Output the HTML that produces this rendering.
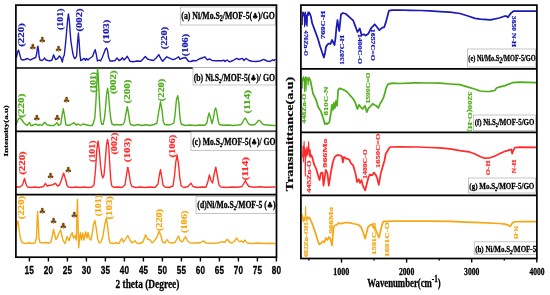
<!DOCTYPE html>
<html><head><meta charset="utf-8"><title>XRD and FTIR</title>
<style>html,body{margin:0;padding:0;background:#fff;}body{width:550px;height:295px;overflow:hidden;}svg{display:block;filter:blur(0.35px);}</style>
</head><body>
<svg width="550" height="295" viewBox="0 0 550 295">
<rect width="550" height="295" fill="#fff"/>
<line x1="15.9" y1="68.0" x2="276.5" y2="68.0" stroke="#000" stroke-width="1.7"/>
<line x1="15.9" y1="131.3" x2="276.5" y2="131.3" stroke="#000" stroke-width="1.7"/>
<line x1="15.9" y1="194.6" x2="276.5" y2="194.6" stroke="#000" stroke-width="1.7"/>
<line x1="300.9" y1="68.9" x2="536.9" y2="68.9" stroke="#000" stroke-width="1.7"/>
<line x1="300.9" y1="132.3" x2="536.9" y2="132.3" stroke="#000" stroke-width="1.7"/>
<line x1="300.9" y1="195.3" x2="536.9" y2="195.3" stroke="#000" stroke-width="1.7"/>
<line x1="29.40" y1="257.5" x2="29.40" y2="261.5" stroke="#000" stroke-width="1.4"/>
<line x1="48.40" y1="257.5" x2="48.40" y2="261.5" stroke="#000" stroke-width="1.4"/>
<line x1="67.40" y1="257.5" x2="67.40" y2="261.5" stroke="#000" stroke-width="1.4"/>
<line x1="86.40" y1="257.5" x2="86.40" y2="261.5" stroke="#000" stroke-width="1.4"/>
<line x1="105.40" y1="257.5" x2="105.40" y2="261.5" stroke="#000" stroke-width="1.4"/>
<line x1="124.40" y1="257.5" x2="124.40" y2="261.5" stroke="#000" stroke-width="1.4"/>
<line x1="143.40" y1="257.5" x2="143.40" y2="261.5" stroke="#000" stroke-width="1.4"/>
<line x1="162.40" y1="257.5" x2="162.40" y2="261.5" stroke="#000" stroke-width="1.4"/>
<line x1="181.40" y1="257.5" x2="181.40" y2="261.5" stroke="#000" stroke-width="1.4"/>
<line x1="200.40" y1="257.5" x2="200.40" y2="261.5" stroke="#000" stroke-width="1.4"/>
<line x1="219.40" y1="257.5" x2="219.40" y2="261.5" stroke="#000" stroke-width="1.4"/>
<line x1="238.40" y1="257.5" x2="238.40" y2="261.5" stroke="#000" stroke-width="1.4"/>
<line x1="257.40" y1="257.5" x2="257.40" y2="261.5" stroke="#000" stroke-width="1.4"/>
<line x1="276.40" y1="257.5" x2="276.40" y2="261.5" stroke="#000" stroke-width="1.4"/>
<line x1="308.95" y1="258.5" x2="308.95" y2="260.8" stroke="#000" stroke-width="1.1"/>
<line x1="341.50" y1="258.5" x2="341.50" y2="262.6" stroke="#000" stroke-width="1.4"/>
<line x1="374.05" y1="258.5" x2="374.05" y2="260.8" stroke="#000" stroke-width="1.1"/>
<line x1="406.60" y1="258.5" x2="406.60" y2="262.6" stroke="#000" stroke-width="1.4"/>
<line x1="439.15" y1="258.5" x2="439.15" y2="260.8" stroke="#000" stroke-width="1.1"/>
<line x1="471.70" y1="258.5" x2="471.70" y2="262.6" stroke="#000" stroke-width="1.4"/>
<line x1="504.25" y1="258.5" x2="504.25" y2="260.8" stroke="#000" stroke-width="1.1"/>
<line x1="536.80" y1="258.5" x2="536.80" y2="262.6" stroke="#000" stroke-width="1.4"/>
<polyline points="16.5,57 17.5,52 18.6,50.2 19.6,54 21.1,59.4 23,60 25,59.5 27.5,58.5 30,60 33,58.6 34.5,58 35.8,57.4 36.8,53 37.5,47.5 37.9,46.2 38.5,50 39.2,57 40,60 42,60.5 43.5,59.5 44.5,57.9 46,60 48,60.5 50,60.8 52,60 53.6,54.8 55.5,59.5 57,59 58,58 59.5,56 61,57.9 62.3,62 63.2,57.5 64.3,55 65.5,44 66.5,33 67.5,21 68.4,14 69.3,20 70.2,33 71,42 71.8,47 72.6,52 73.5,56 74.5,58.5 75.5,58 76.6,56 77.6,42 78.4,33 79.2,43 80,55 80.8,60.6 82,60 83,59 84.3,58.4 85.5,60.5 86.5,58.5 88,60 89.5,58.5 91,57.5 92.5,56.5 93.8,53 95.2,49.7 96.4,55 97.4,61 99,60 100.5,61 102,58 104,53 105.5,49 106.6,47.9 107.6,51 108.5,57 110,61 112,61 115,60.5 117,57.9 119,60.5 121,59.5 122.4,57.7 124,60 126,58 127.3,56.3 128.5,58.5 130,61.2 133,61.8 137,61 140.9,61.2 143.5,58.5 145.3,56.5 147.5,59 149.6,59.7 153.3,60.5 156.2,58 158.8,54.6 161,59 162.7,61.2 166.7,56.8 170,58.3 173,59.7 175.1,59 178.7,56.8 180,59.4 182.1,58.3 185.6,57.5 188.5,61.2 191,61.5 193.3,60.5 196,60.9 199.1,59 202,58 204.9,56.8 207,59.7 210,59 212,60.5 216,60.7 222,60.7 224,60.2 225,61.5 227,60 229.6,61.8 233,60.5 236.6,58.4 239,59.5 242.5,58.4 244,60.5 245.9,58.4 249,60.5 252,61.3 256,61.5 260,61 263.7,59.4 267,61 270,61.5 272.5,59.8 274,60.5 275,59.5" fill="none" stroke="#1a1ab4" stroke-width="1.4" stroke-linejoin="round" stroke-linecap="round"/>
<polyline points="16,124.8 17.5,121 18.8,118.5 20.1,118 21.5,119.5 23.5,122.5 25.2,124.1 27,125.5 29.5,122.6 31,125.8 33,125 36.1,124.1 38,125.5 40,124.5 41.9,125.5 44.8,122.3 47,124.8 50,125.5 54,125.5 57.2,122.6 58.5,125.5 60.8,124.1 62.3,113.9 63.3,108.8 64.7,116.8 65.9,124.8 68,125.5 71,124.5 73.9,122.6 76,125 78,124 80.5,125.5 83,124 86.3,124.8 89,125.5 92,125.5 93,124 94.8,118 95.8,104 96.6,88 97.2,74 97.6,69 98.1,74 98.8,88 99.6,104 100.5,118 101.5,124 103,124.5 104.5,118 105.5,108 106.5,95 107.6,88.3 108.6,95 109.6,108 110.8,119 112,124 114,125 117,124.5 120,125 123,124.5 124.5,122 125.5,116 127.3,106.6 128.5,113 129.5,121 130.5,124.5 134,125.5 138,124.5 142,125.5 146,124.8 150,125.5 154,124.5 157,123 158.5,113 160.5,101.8 162,110 163.2,121 164.5,124.5 168,125 171,124.5 173.9,123 175,115 176.4,100 177.7,95.6 178.9,103 180,118 181.2,124 185,125.5 190,125 195,125.5 200,125 205,125.2 206.8,123 208,117 209.1,112.9 210.3,117 212,123.5 213.5,118 214.6,110.5 215.7,108.1 216.8,112 218,120 219.3,124.5 223,125.3 228,125 233,125.5 238,125 241,124.5 242.6,122.5 244,119.5 245.1,118.1 246.3,119.5 247.6,122.5 249.5,124.5 252,125 255,124.5 256.8,122.5 258,120.8 259.2,120.3 260.6,121.5 262.3,123.8 265,124.8 270,125.2 275,125.5" fill="none" stroke="#4fae1c" stroke-width="1.4" stroke-linejoin="round" stroke-linecap="round"/>
<polyline points="16,187 20,187 22.5,185 24.5,178.4 26,184 27.5,187 31,187.5 35,187 39,187.5 43.5,186.5 45.4,183.3 47,186 49,185.5 52,185 55.4,183.3 57.5,186 59.5,185 61,181 63.7,173.1 65.5,179 67,185.5 68.5,187 72,187.5 76,187 80,187.5 84,187 88,187.5 92,187 94,185 95.5,170 96.8,150 98.1,141 99.3,150 100.5,165 101.8,175 102.8,177.9 104,175 105.2,162 106.5,145 107.6,139.4 108.7,146 109.8,165 110.8,180 111.8,186 114,187.3 118,187 122,187.5 125,185 126.3,176 127.8,167.2 129.2,174 130.5,183 132,186.5 136,187.5 140,187 145,187.5 150,187 155,187.5 158,184 159.2,176 160.5,169.6 161.8,177 163,185 165,187 169,187.5 173,186 174.5,176 175.8,162 177.1,155.3 178.4,163 179.8,178 181.2,186 184,187.5 188,186.5 190.9,183.1 193,186.5 197,187.5 202,187 206,187.2 207.8,182 209.4,175 211,180.5 212.5,183 214,175 215.8,167.2 217.4,176 219,185 221,187 226,187.5 232,187 238,187.3 242,186.5 243.8,183.5 245.4,180.7 247,184 249,186.5 254,187.2 260,186.8 266,187.3 275,187" fill="none" stroke="#ff2b2b" stroke-width="1.4" stroke-linejoin="round" stroke-linecap="round"/>
<polyline points="16.2,230 17.2,221.5 18,221 19.2,230 20.3,238 21.5,241.5 23,243 26,243.5 29,242.8 32,243.5 35,243 36.5,238 37.2,220 37.6,211.5 38.2,222 39,238 40,242.5 43,243 46,242.5 49,243.2 51,242 52.3,236 53.5,229.5 54.6,234 55.9,239.5 57.5,237 59,233 60.6,230 62,236 63,240.7 65.1,243.5 67,236.6 69,240.7 70.5,236 72.2,232.6 73.5,238 75.2,235.6 76.3,240 77,215 77.4,199.5 78,222 78.7,247.8 79.4,240 80.3,232.6 81.5,240 82.5,233 84,240 85.5,232 87,238 88,232.5 89.4,238.7 91,240 92.5,232 93.5,224.4 94.9,220.4 96.5,230 97.6,238.7 99.3,243 101,242 103,236 104.8,224 106.4,218.1 107.8,228 109,239 110,243 113,243.5 116,242.8 119,243.5 120.5,240.5 121.8,238.3 123.2,242 125,240 127.8,235.5 130,240 132,243 134.9,240.7 136.5,243 140,243.5 143,242 145.6,234.8 147.5,239 150.3,240 152,243 155,240 157,237 159.1,231.2 161,236 162.5,242 165,243 167.1,239.5 169,242.5 172,243 175,242.5 176.8,239 178.5,236 180.3,241 182,242 184,239 185.7,236.7 187.5,241 190,242.8 195,243 200,242.8 203.6,240.9 206,243 212,243.2 218,243 222.6,241.6 224.5,242.5 227.3,239.2 229.5,242 232,243 234.5,241 236.8,238 239,241.5 241.6,241 243.2,242.5 245.1,240 247,243 252,243.5 258,243 264,243.5 270,243.2 275,243.5" fill="none" stroke="#f5a816" stroke-width="1.4" stroke-linejoin="round" stroke-linecap="round"/>
<polyline points="302.3,24.5 302.6,12 303.3,16 303.8,12 304.3,16 304.6,26.8 304.9,15 305.5,12 306,24.8 306.4,15 307.1,26.3 307.5,14 308,11.8 308.6,15.5 309.2,12 310,14" fill="none" stroke="#1a1ab4" stroke-width="1.1" stroke-linejoin="round" stroke-linecap="round"/>
<polyline points="310,14 311,17 312.2,23.3 315.2,31.4 318,39 320,46 322,52 323.9,57.5 325,53 326,47 327.5,44.5 329,43.5 330.5,44 332,40 333.5,43 334.5,45 335.5,38 336.5,27 337.5,20 338.5,27 339.3,31 340.2,22 341,14.3 343,13 346,14 350,17.7 353.3,20.7 355,25.4 357.5,32 359.8,28.4 361.6,35 364,34.3 365.8,35.5 368.2,33.8 371,28.4 374.7,24.3 377.1,27.2 379.4,30.2 382,27.8 384.2,27.2 386,21.9 388.3,13 389,10.7 392,10.2 400,10 410,10.3 420,10.5 430,10.8 440,11.6 450,12.2 460,13.5 468,16 475,18.3 480.3,19.2 490.5,19.8 499.2,18 505,16 506.5,16.2 508,17.4 509.5,15 511,13.1 513.7,11 525,11 536,11" fill="none" stroke="#1a1ab4" stroke-width="1.75" stroke-linejoin="round" stroke-linecap="round"/>
<polyline points="302.3,88 302.5,78 303,81 303.5,76.5 304.2,80 304.5,91.8 304.9,79 305.5,76.8 306,91 306.4,79 307,77 307.8,80.5 308.2,85 308.6,78 309.3,77.5 310,80" fill="none" stroke="#4fae1c" stroke-width="1.1" stroke-linejoin="round" stroke-linecap="round"/>
<polyline points="310,80 310.5,81 312.1,89 313,93.7 316.2,100.2 318,106.7 320.9,111.4 323.7,119.8 324.8,123.9 326,123.2 327,124 328,123.3 329.3,122.6 331,112.3 332,104.9 333,110 333.9,103 335,108 335.8,101.1 337,105.8 338.2,89.9 339.5,88.4 343.2,89.6 347,91.8 350,95.3 353,98.5 355.3,102.7 357.4,109 359,104.8 360.5,106.9 362.6,109 365,105.8 366.8,112.1 368.5,108 370,106.9 372.7,103.7 374.5,105 376.3,105.8 378.4,108 380,103.7 381.5,101.6 383.6,97.4 386.2,88 387.8,84.4 392,83.1 400,83.5 415,82.8 430,83 440,83.2 450,84 460,84.7 467.3,86.8 474.5,89 480,91 485,91.5 490,91.4 494.8,90.5 496.5,88 500,86.8 505,85.6 512.3,82.7 520,82.1 536,82.7" fill="none" stroke="#4fae1c" stroke-width="1.75" stroke-linejoin="round" stroke-linecap="round"/>
<polyline points="302.6,157 303,146 303.4,161.8 303.8,150 304.1,141.6 304.5,156 305,148 305.3,176 305.7,150 306.3,157 306.9,147 307.5,155 308.1,150 308.7,141.8 309.2,156 309.8,150" fill="none" stroke="#ff2b2b" stroke-width="1.1" stroke-linejoin="round" stroke-linecap="round"/>
<polyline points="309.8,150 310.3,157 311.2,155 312.4,157.7 314,164.2 316.2,168.8 318,175.3 319.5,180 320.8,173.1 322.5,172.6 323.5,185.6 325.8,169.8 327.5,173.5 328.8,185.6 331,171.6 332.9,162 334.8,156.7 337.6,154.9 341.3,155.8 342,156.8 342.8,162.4 344,157 346.5,158.7 349.3,159.6 351,163.3 353.1,165.2 354.5,169.9 355.9,175.4 357,182 358.7,179.2 360.1,182.9 361.5,180.1 362.8,185.7 365.2,190.4 367,182.9 368.5,177.3 369.9,174.5 372,175.4 374,172.6 375.5,174.5 376.9,177.3 378.8,184.8 380.1,177.3 381,172.6 382.9,166.1 384.5,160.5 385.7,154 388.5,149.3 390,147 400,146.8 417.5,147 430,147.5 440,147.8 450,148.9 460,150.6 469,151.8 475,154 480,156.5 484.4,158.2 490,157.8 495,156 500,153.5 505,151.3 511.3,149.4 512.2,153.6 513,151 515,147.5 520,147.2 536,147.3" fill="none" stroke="#ff2b2b" stroke-width="1.75" stroke-linejoin="round" stroke-linecap="round"/>
<polyline points="302.3,214.5 303,222 303.8,217 304.5,221 305.3,216 305.6,206.6 306,218 306.8,221.5 307.6,216.5 308.5,219 309.3,217 310.1,219" fill="none" stroke="#f5a816" stroke-width="1.1" stroke-linejoin="round" stroke-linecap="round"/>
<polyline points="310.1,219 312,223.2 314.3,229.5 316,234.8 317.9,241.1 319.3,244.3 321,243.2 323.1,241.1 324.5,242.2 325.9,238 327.5,240 329,236.9 330.5,239 332,245.3 333.6,227.4 335,225.3 336.8,224.9 338.5,223.2 341,223.7 346,222.5 350,222.8 355,224 358,224.5 361,227 363,232 365.2,238.6 366.8,232 368,227 371.2,224.4 373.5,225.5 375.5,229 377,233 379,237.6 380.5,231 382,225 383.4,221.3 386,221.3 395,221 410,221.1 430,221.2 450,221.3 460,221.8 480.3,222.6 499.2,223.5 505,224.2 508,225 510,226.4 511.5,224.5 512.5,222.8 514.3,221.8 520,221.5 536,221.5" fill="none" stroke="#f5a816" stroke-width="1.75" stroke-linejoin="round" stroke-linecap="round"/>
<rect x="180.4" y="7" width="95.2" height="18" fill="#fff" stroke="#b8b8b8" stroke-width="0.8"/>
<rect x="193" y="67.5" width="82.6" height="17.5" fill="#fff" stroke="#b8b8b8" stroke-width="0.8"/>
<rect x="191" y="132" width="84.6" height="18.6" fill="#fff" stroke="#b8b8b8" stroke-width="0.8"/>
<rect x="196" y="196.6" width="79.6" height="17" fill="#fff" stroke="#b8b8b8" stroke-width="0.8"/>
<rect x="467.4" y="49" width="68.2" height="18" fill="#fff" stroke="#b8b8b8" stroke-width="0.8"/>
<rect x="473.6" y="115" width="62" height="15.4" fill="#fff" stroke="#b8b8b8" stroke-width="0.8"/>
<rect x="468.4" y="178" width="67.2" height="15" fill="#fff" stroke="#b8b8b8" stroke-width="0.8"/>
<rect x="474.3" y="241.8" width="62.2" height="12.7" fill="#fff" stroke="#b8b8b8" stroke-width="0.8"/>
<rect x="15.9" y="5.1" width="260.6" height="252.1" fill="none" stroke="#000" stroke-width="1.7"/>
<rect x="300.9" y="5.1" width="236" height="253.4" fill="none" stroke="#000" stroke-width="1.7"/>
<text x="32.8" y="50.06" font-family="DejaVu Sans, sans-serif" font-size="8.5" fill="#7a4a0c" text-anchor="middle">&#9827;</text>
<text x="42.3" y="42.96" font-family="DejaVu Sans, sans-serif" font-size="8.5" fill="#7a4a0c" text-anchor="middle">&#9827;</text>
<text x="58.5" y="51.96" font-family="DejaVu Sans, sans-serif" font-size="8.5" fill="#7a4a0c" text-anchor="middle">&#9827;</text>
<text x="36.8" y="120.86" font-family="DejaVu Sans, sans-serif" font-size="8.5" fill="#7a4a0c" text-anchor="middle">&#9827;</text>
<text x="57.2" y="120.86" font-family="DejaVu Sans, sans-serif" font-size="8.5" fill="#7a4a0c" text-anchor="middle">&#9827;</text>
<text x="66.5" y="103.36" font-family="DejaVu Sans, sans-serif" font-size="8.5" fill="#7a4a0c" text-anchor="middle">&#9827;</text>
<text x="50.6" y="178.76" font-family="DejaVu Sans, sans-serif" font-size="8.5" fill="#7a4a0c" text-anchor="middle">&#9827;</text>
<text x="68.4" y="172.86" font-family="DejaVu Sans, sans-serif" font-size="8.5" fill="#7a4a0c" text-anchor="middle">&#9827;</text>
<text x="42.3" y="214.06" font-family="DejaVu Sans, sans-serif" font-size="8.5" fill="#7a4a0c" text-anchor="middle">&#9827;</text>
<text x="53.5" y="223.56" font-family="DejaVu Sans, sans-serif" font-size="8.5" fill="#7a4a0c" text-anchor="middle">&#9827;</text>
<text x="63.2" y="228.96" font-family="DejaVu Sans, sans-serif" font-size="8.5" fill="#7a4a0c" text-anchor="middle">&#9827;</text>
<text x="74.4" y="218.36" font-family="DejaVu Sans, sans-serif" font-size="8.5" fill="#7a4a0c" text-anchor="middle">&#9827;</text>
<text transform="translate(23.55,46.75) rotate(-90)" font-family="Liberation Serif, serif" font-weight="bold" font-size="7.4" fill="#1a1ab4" stroke="#1a1ab4" stroke-width="0.18" textLength="23.56" lengthAdjust="spacingAndGlyphs">(220)</text>
<text transform="translate(63.05,29.95) rotate(-90)" font-family="Liberation Serif, serif" font-weight="bold" font-size="7.4" fill="#1a1ab4" stroke="#1a1ab4" stroke-width="0.18" textLength="21.40" lengthAdjust="spacingAndGlyphs">(101)</text>
<text transform="translate(82.30,31.45) rotate(-90)" font-family="Liberation Serif, serif" font-weight="bold" font-size="7.4" fill="#1a1ab4" stroke="#1a1ab4" stroke-width="0.18" textLength="22.94" lengthAdjust="spacingAndGlyphs">(002)</text>
<text transform="translate(109.15,43.15) rotate(-90)" font-family="Liberation Serif, serif" font-weight="bold" font-size="7.4" fill="#1a1ab4" stroke="#1a1ab4" stroke-width="0.18" textLength="23.56" lengthAdjust="spacingAndGlyphs">(103)</text>
<text transform="translate(167.45,49.30) rotate(-90)" font-family="Liberation Serif, serif" font-weight="bold" font-size="7.4" fill="#1a1ab4" stroke="#1a1ab4" stroke-width="0.18" textLength="22.48" lengthAdjust="spacingAndGlyphs">(220)</text>
<text transform="translate(188.10,56.20) rotate(-90)" font-family="Liberation Serif, serif" font-weight="bold" font-size="7.4" fill="#1a1ab4" stroke="#1a1ab4" stroke-width="0.18" textLength="22.38" lengthAdjust="spacingAndGlyphs">(106)</text>
<text transform="translate(23.80,117.70) rotate(-90)" font-family="Liberation Serif, serif" font-weight="bold" font-size="7.4" fill="#4fae1c" stroke="#4fae1c" stroke-width="0.18" textLength="24.03" lengthAdjust="spacingAndGlyphs">(220)</text>
<text transform="translate(95.80,92.50) rotate(-90)" font-family="Liberation Serif, serif" font-weight="bold" font-size="7.4" fill="#4fae1c" stroke="#4fae1c" stroke-width="0.18" textLength="20.41" lengthAdjust="spacingAndGlyphs">(101)</text>
<text transform="translate(116.05,94.00) rotate(-90)" font-family="Liberation Serif, serif" font-weight="bold" font-size="7.4" fill="#4fae1c" stroke="#4fae1c" stroke-width="0.18" textLength="23.51" lengthAdjust="spacingAndGlyphs">(002)</text>
<text transform="translate(129.90,103.55) rotate(-90)" font-family="Liberation Serif, serif" font-weight="bold" font-size="7.4" fill="#4fae1c" stroke="#4fae1c" stroke-width="0.18" textLength="23.97" lengthAdjust="spacingAndGlyphs">(200)</text>
<text transform="translate(163.55,101.20) rotate(-90)" font-family="Liberation Serif, serif" font-weight="bold" font-size="7.4" fill="#4fae1c" stroke="#4fae1c" stroke-width="0.18" textLength="22.38" lengthAdjust="spacingAndGlyphs">(220)</text>
<text transform="translate(249.85,113.47) rotate(-90)" font-family="Liberation Serif, serif" font-weight="bold" font-size="7.4" fill="#4fae1c" stroke="#4fae1c" stroke-width="0.18" textLength="23.31" lengthAdjust="spacingAndGlyphs">(114)</text>
<text transform="translate(25.45,174.80) rotate(-90)" font-family="Liberation Serif, serif" font-weight="bold" font-size="7.4" fill="#ff2b2b" stroke="#ff2b2b" stroke-width="0.18" textLength="23.51" lengthAdjust="spacingAndGlyphs">(220)</text>
<text transform="translate(94.50,161.90) rotate(-90)" font-family="Liberation Serif, serif" font-weight="bold" font-size="7.4" fill="#ff2b2b" stroke="#ff2b2b" stroke-width="0.18" textLength="21.34" lengthAdjust="spacingAndGlyphs">(101)</text>
<text transform="translate(117.05,154.60) rotate(-90)" font-family="Liberation Serif, serif" font-weight="bold" font-size="7.4" fill="#ff2b2b" stroke="#ff2b2b" stroke-width="0.18" textLength="21.86" lengthAdjust="spacingAndGlyphs">(002)</text>
<text transform="translate(129.90,162.15) rotate(-90)" font-family="Liberation Serif, serif" font-weight="bold" font-size="7.4" fill="#ff2b2b" stroke="#ff2b2b" stroke-width="0.18" textLength="24.08" lengthAdjust="spacingAndGlyphs">(103)</text>
<text transform="translate(174.70,157.62) rotate(-90)" font-family="Liberation Serif, serif" font-weight="bold" font-size="7.4" fill="#ff2b2b" stroke="#ff2b2b" stroke-width="0.18" textLength="22.84" lengthAdjust="spacingAndGlyphs">(106)</text>
<text transform="translate(247.75,180.28) rotate(-90)" font-family="Liberation Serif, serif" font-weight="bold" font-size="7.4" fill="#ff2b2b" stroke="#ff2b2b" stroke-width="0.18" textLength="23.31" lengthAdjust="spacingAndGlyphs">(114)</text>
<text transform="translate(24.35,219.20) rotate(-90)" font-family="Liberation Serif, serif" font-weight="bold" font-size="7.4" fill="#f5a816" stroke="#f5a816" stroke-width="0.18" textLength="23.41" lengthAdjust="spacingAndGlyphs">(220)</text>
<text transform="translate(100.70,216.32) rotate(-90)" font-family="Liberation Serif, serif" font-weight="bold" font-size="7.4" fill="#f5a816" stroke="#f5a816" stroke-width="0.18" textLength="21.29" lengthAdjust="spacingAndGlyphs">(101)</text>
<text transform="translate(112.10,219.50) rotate(-90)" font-family="Liberation Serif, serif" font-weight="bold" font-size="7.4" fill="#f5a816" stroke="#f5a816" stroke-width="0.18" textLength="23.41" lengthAdjust="spacingAndGlyphs">(103)</text>
<text transform="translate(161.75,231.05) rotate(-90)" font-family="Liberation Serif, serif" font-weight="bold" font-size="7.4" fill="#f5a816" stroke="#f5a816" stroke-width="0.18" textLength="22.01" lengthAdjust="spacingAndGlyphs">(220)</text>
<text transform="translate(187.25,233.05) rotate(-90)" font-family="Liberation Serif, serif" font-weight="bold" font-size="7.4" fill="#f5a816" stroke="#f5a816" stroke-width="0.18" textLength="22.53" lengthAdjust="spacingAndGlyphs">(106)</text>
<text transform="translate(303.92,30.60) rotate(90)" font-family="Liberation Serif, serif" font-weight="bold" font-size="5.6" fill="#1a1ab4" stroke="#1a1ab4" stroke-width="0.18" textLength="25.24" lengthAdjust="spacingAndGlyphs">476Zn-O</text>
<text transform="translate(325.23,39.05) rotate(-90)" font-family="Liberation Serif, serif" font-weight="bold" font-size="5.6" fill="#1a1ab4" stroke="#1a1ab4" stroke-width="0.18" textLength="28.06" lengthAdjust="spacingAndGlyphs">769C-H</text>
<text transform="translate(343.52,64.78) rotate(-90)" font-family="Liberation Serif, serif" font-weight="bold" font-size="5.6" fill="#1a1ab4" stroke="#1a1ab4" stroke-width="0.18" textLength="29.67" lengthAdjust="spacingAndGlyphs">1387C-H</text>
<text transform="translate(357.52,33.77) rotate(90)" font-family="Liberation Serif, serif" font-weight="bold" font-size="5.6" fill="#1a1ab4" stroke="#1a1ab4" stroke-width="0.18" textLength="30.51" lengthAdjust="spacingAndGlyphs">1490C-O</text>
<text transform="translate(371.42,28.75) rotate(90)" font-family="Liberation Serif, serif" font-weight="bold" font-size="5.6" fill="#1a1ab4" stroke="#1a1ab4" stroke-width="0.18" textLength="32.08" lengthAdjust="spacingAndGlyphs">1657C=O</text>
<text transform="translate(511.67,15.85) rotate(90)" font-family="Liberation Serif, serif" font-weight="bold" font-size="5.6" fill="#1a1ab4" stroke="#1a1ab4" stroke-width="0.18" textLength="30.97" lengthAdjust="spacingAndGlyphs">3650 N-H</text>
<text transform="translate(306.38,123.42) rotate(-90)" font-family="Liberation Serif, serif" font-weight="bold" font-size="5.6" fill="#4fae1c" stroke="#4fae1c" stroke-width="0.18" textLength="29.84" lengthAdjust="spacingAndGlyphs">448Zn-O</text>
<text transform="translate(327.92,115.55) rotate(-90)" font-family="Liberation Serif, serif" font-weight="bold" font-size="5.6" fill="#4fae1c" stroke="#4fae1c" stroke-width="0.18" textLength="29.04" lengthAdjust="spacingAndGlyphs">810C-N</text>
<text transform="translate(369.52,103.53) rotate(-90)" font-family="Liberation Serif, serif" font-weight="bold" font-size="5.6" fill="#4fae1c" stroke="#4fae1c" stroke-width="0.18" textLength="30.94" lengthAdjust="spacingAndGlyphs">1599C=O</text>
<text transform="translate(468.15,91.57) rotate(90)" font-family="Liberation Serif, serif" font-weight="bold" font-size="5.6" fill="#4fae1c" stroke="#4fae1c" stroke-width="0.18" textLength="40.42" lengthAdjust="spacingAndGlyphs">3200(O-H)</text>
<text transform="translate(310.67,192.75) rotate(-90)" font-family="Liberation Serif, serif" font-weight="bold" font-size="5.6" fill="#ff2b2b" stroke="#ff2b2b" stroke-width="0.18" textLength="32.31" lengthAdjust="spacingAndGlyphs">445Zn-O</text>
<text transform="translate(327.18,167.55) rotate(-90)" font-family="Liberation Serif, serif" font-weight="bold" font-size="5.6" fill="#ff2b2b" stroke="#ff2b2b" stroke-width="0.18" textLength="29.08" lengthAdjust="spacingAndGlyphs">966Mo</text>
<text transform="translate(367.12,178.78) rotate(-90)" font-family="Liberation Serif, serif" font-weight="bold" font-size="5.6" fill="#ff2b2b" stroke="#ff2b2b" stroke-width="0.18" textLength="29.41" lengthAdjust="spacingAndGlyphs">1489C-O</text>
<text transform="translate(380.43,168.10) rotate(-90)" font-family="Liberation Serif, serif" font-weight="bold" font-size="5.6" fill="#ff2b2b" stroke="#ff2b2b" stroke-width="0.18" textLength="34.72" lengthAdjust="spacingAndGlyphs">1650C=O</text>
<text transform="translate(489.93,175.30) rotate(-90)" font-family="Liberation Serif, serif" font-weight="bold" font-size="5.6" fill="#ff2b2b" stroke="#ff2b2b" stroke-width="0.18" textLength="14.81" lengthAdjust="spacingAndGlyphs">O-H</text>
<text transform="translate(515.67,173.18) rotate(-90)" font-family="Liberation Serif, serif" font-weight="bold" font-size="5.6" fill="#ff2b2b" stroke="#ff2b2b" stroke-width="0.18" textLength="13.54" lengthAdjust="spacingAndGlyphs">N-H</text>
<text transform="translate(307.98,257.75) rotate(-90)" font-family="Liberation Serif, serif" font-weight="bold" font-size="5.6" fill="#f5a816" stroke="#f5a816" stroke-width="0.18" textLength="35.34" lengthAdjust="spacingAndGlyphs">482Zn-OH</text>
<text transform="translate(332.68,233.53) rotate(-90)" font-family="Liberation Serif, serif" font-weight="bold" font-size="5.6" fill="#f5a816" stroke="#f5a816" stroke-width="0.18" textLength="26.40" lengthAdjust="spacingAndGlyphs">966Mo</text>
<text transform="translate(376.17,254.70) rotate(-90)" font-family="Liberation Serif, serif" font-weight="bold" font-size="5.6" fill="#f5a816" stroke="#f5a816" stroke-width="0.18" textLength="32.13" lengthAdjust="spacingAndGlyphs">1591C-O</text>
<text transform="translate(388.73,256.98) rotate(-90)" font-family="Liberation Serif, serif" font-weight="bold" font-size="5.6" fill="#f5a816" stroke="#f5a816" stroke-width="0.18" textLength="34.90" lengthAdjust="spacingAndGlyphs">1691C-O</text>
<text transform="translate(514.12,226.05) rotate(90)" font-family="Liberation Serif, serif" font-weight="bold" font-size="5.6" fill="#f5a816" stroke="#f5a816" stroke-width="0.18" textLength="13.01" lengthAdjust="spacingAndGlyphs">N-H</text>
<text transform="translate(8.40,156.45) rotate(-90)" font-family="Liberation Serif, serif" font-weight="bold" font-size="6" fill="#000" stroke="#000" stroke-width="0.18" textLength="51.27" lengthAdjust="spacingAndGlyphs">Intensity(a.u)</text>
<text transform="translate(292.52,191.15) rotate(-90)" font-family="Liberation Serif, serif" font-weight="bold" font-size="11" fill="#000" stroke="#000" stroke-width="0.18" textLength="114.27" lengthAdjust="spacingAndGlyphs">Transmittance(a.u)</text>
<text x="24.60" y="273.70" font-family="Liberation Sans, sans-serif" font-weight="bold" font-size="10.8" fill="#000" stroke="#000" stroke-width="0.3" textLength="9.34" lengthAdjust="spacingAndGlyphs">15</text>
<text x="43.85" y="273.70" font-family="Liberation Sans, sans-serif" font-weight="bold" font-size="10.8" fill="#000" stroke="#000" stroke-width="0.3" textLength="9.07" lengthAdjust="spacingAndGlyphs">20</text>
<text x="62.85" y="273.70" font-family="Liberation Sans, sans-serif" font-weight="bold" font-size="10.8" fill="#000" stroke="#000" stroke-width="0.3" textLength="9.13" lengthAdjust="spacingAndGlyphs">25</text>
<text x="81.85" y="273.70" font-family="Liberation Sans, sans-serif" font-weight="bold" font-size="10.8" fill="#000" stroke="#000" stroke-width="0.3" textLength="9.13" lengthAdjust="spacingAndGlyphs">30</text>
<text x="100.85" y="273.70" font-family="Liberation Sans, sans-serif" font-weight="bold" font-size="10.8" fill="#000" stroke="#000" stroke-width="0.3" textLength="9.20" lengthAdjust="spacingAndGlyphs">35</text>
<text x="119.85" y="273.70" font-family="Liberation Sans, sans-serif" font-weight="bold" font-size="10.8" fill="#000" stroke="#000" stroke-width="0.3" textLength="9.13" lengthAdjust="spacingAndGlyphs">40</text>
<text x="139.10" y="273.70" font-family="Liberation Sans, sans-serif" font-weight="bold" font-size="10.8" fill="#000" stroke="#000" stroke-width="0.3" textLength="8.94" lengthAdjust="spacingAndGlyphs">45</text>
<text x="157.85" y="273.70" font-family="Liberation Sans, sans-serif" font-weight="bold" font-size="10.8" fill="#000" stroke="#000" stroke-width="0.3" textLength="9.07" lengthAdjust="spacingAndGlyphs">50</text>
<text x="176.85" y="273.70" font-family="Liberation Sans, sans-serif" font-weight="bold" font-size="10.8" fill="#000" stroke="#000" stroke-width="0.3" textLength="9.13" lengthAdjust="spacingAndGlyphs">55</text>
<text x="195.85" y="273.70" font-family="Liberation Sans, sans-serif" font-weight="bold" font-size="10.8" fill="#000" stroke="#000" stroke-width="0.3" textLength="9.07" lengthAdjust="spacingAndGlyphs">60</text>
<text x="214.85" y="273.70" font-family="Liberation Sans, sans-serif" font-weight="bold" font-size="10.8" fill="#000" stroke="#000" stroke-width="0.3" textLength="9.13" lengthAdjust="spacingAndGlyphs">65</text>
<text x="233.85" y="273.70" font-family="Liberation Sans, sans-serif" font-weight="bold" font-size="10.8" fill="#000" stroke="#000" stroke-width="0.3" textLength="9.07" lengthAdjust="spacingAndGlyphs">70</text>
<text x="252.85" y="273.70" font-family="Liberation Sans, sans-serif" font-weight="bold" font-size="10.8" fill="#000" stroke="#000" stroke-width="0.3" textLength="9.13" lengthAdjust="spacingAndGlyphs">75</text>
<text x="271.85" y="273.70" font-family="Liberation Sans, sans-serif" font-weight="bold" font-size="10.8" fill="#000" stroke="#000" stroke-width="0.3" textLength="9.13" lengthAdjust="spacingAndGlyphs">80</text>
<text x="333.35" y="275.10" font-family="Liberation Serif, serif" font-weight="bold" font-size="11" fill="#000" stroke="#000" stroke-width="0.3" textLength="15.99" lengthAdjust="spacingAndGlyphs">1000</text>
<text x="398.95" y="275.10" font-family="Liberation Serif, serif" font-weight="bold" font-size="11" fill="#000" stroke="#000" stroke-width="0.3" textLength="15.35" lengthAdjust="spacingAndGlyphs">2000</text>
<text x="464.05" y="275.10" font-family="Liberation Serif, serif" font-weight="bold" font-size="11" fill="#000" stroke="#000" stroke-width="0.3" textLength="15.35" lengthAdjust="spacingAndGlyphs">3000</text>
<text x="529.40" y="275.10" font-family="Liberation Serif, serif" font-weight="bold" font-size="11" fill="#000" stroke="#000" stroke-width="0.3" textLength="15.17" lengthAdjust="spacingAndGlyphs">4000</text>
<text x="115.50" y="287.60" font-family="Liberation Serif, serif" font-weight="bold" font-size="12.4" fill="#000" stroke="#000" stroke-width="0.3" textLength="63.88" lengthAdjust="spacingAndGlyphs">2 theta (Degree)</text>
<text x="367.25" y="287.20" font-family="Liberation Serif, serif" font-weight="bold" font-size="11.6" fill="#000" stroke="#000" stroke-width="0.3" textLength="73.48" lengthAdjust="spacingAndGlyphs">Wavenumber(cm<tspan font-size="9.5" dy="-5.5">-1</tspan><tspan dy="5.5">)</tspan></text>
<text x="181.35" y="19.00" font-family="Liberation Serif, serif" font-weight="bold" font-size="9.8" fill="#000" stroke="#000" stroke-width="0.3" textLength="93.46" lengthAdjust="spacingAndGlyphs">(a) Ni/Mo.S<tspan font-size="7.5" dy="2">2</tspan><tspan dy="-2">/MOF-5(<tspan font-family="DejaVu Sans" font-size="8.2">&#9827;</tspan>)/GO</tspan></text>
<text x="193.75" y="81.00" font-family="Liberation Serif, serif" font-weight="bold" font-size="9.8" fill="#000" stroke="#000" stroke-width="0.3" textLength="81.17" lengthAdjust="spacingAndGlyphs">(b) Ni.S<tspan font-size="5.5" dy="2">2</tspan><tspan dy="-2">/MOF-5(<tspan font-family="DejaVu Sans" font-size="8.2">&#9827;</tspan>)/ GO</tspan></text>
<text x="192.25" y="144.60" font-family="Liberation Serif, serif" font-weight="bold" font-size="9.8" fill="#000" stroke="#000" stroke-width="0.3" textLength="83.36" lengthAdjust="spacingAndGlyphs">(c) Mo.S<tspan font-size="5.5" dy="2">2</tspan><tspan dy="-2">/MOF-5(<tspan font-family="DejaVu Sans" font-size="8.2">&#9827;</tspan>)/ GO</tspan></text>
<text x="197.35" y="208.40" font-family="Liberation Serif, serif" font-weight="bold" font-size="9.4" fill="#000" stroke="#000" stroke-width="0.3" textLength="78.12" lengthAdjust="spacingAndGlyphs">(d)Ni/Mo.S<tspan font-size="5.5" dy="2">2</tspan><tspan dy="-2">/MOF-5 (<tspan font-family="DejaVu Sans" font-size="8.2">&#9827;</tspan>)</tspan></text>
<text x="468.35" y="60.80" font-family="Liberation Serif, serif" font-weight="bold" font-size="9" fill="#000" stroke="#000" stroke-width="0.3" textLength="67.35" lengthAdjust="spacingAndGlyphs">(e) Ni/Mo.S<tspan font-size="8.5" dy="2.5">2</tspan><tspan dy="-2.5">/MOF-5/GO</tspan></text>
<text x="474.75" y="125.00" font-family="Liberation Serif, serif" font-weight="bold" font-size="9" fill="#000" stroke="#000" stroke-width="0.3" textLength="59.52" lengthAdjust="spacingAndGlyphs">(f) Ni.S<tspan font-size="5.5" dy="2">2</tspan><tspan dy="-2">/MOF-5/GO</tspan></text>
<text x="469.35" y="188.60" font-family="Liberation Serif, serif" font-weight="bold" font-size="9" fill="#000" stroke="#000" stroke-width="0.3" textLength="64.98" lengthAdjust="spacingAndGlyphs">(g) Mo.S<tspan font-size="5.5" dy="2">2</tspan><tspan dy="-2">/MOF-5/GO</tspan></text>
<text x="475.15" y="252.00" font-family="Liberation Serif, serif" font-weight="bold" font-size="9" fill="#000" stroke="#000" stroke-width="0.3" textLength="61.03" lengthAdjust="spacingAndGlyphs">(h) Ni/Mo.S<tspan font-size="5.5" dy="2">2</tspan><tspan dy="-2">/MOF-5</tspan></text>
</svg>
</body></html>
